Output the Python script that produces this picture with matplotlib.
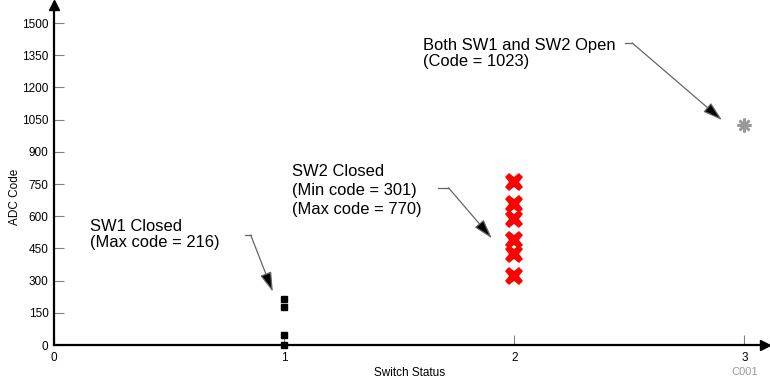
import matplotlib
matplotlib.use('Agg')
import matplotlib.pyplot as plt

plt.rcParams['font.family'] = ['Liberation Sans', 'DejaVu Sans']

# data
sw1_x = [1, 1, 1, 1]
sw1_codes = [216, 175, 48, 0]
sw2_x = [2, 2, 2, 2, 2, 2]
sw2_codes = [760, 655, 585, 490, 425, 320]
open_x = [3]
open_codes = [1023]

yticks = [0, 150, 300, 450, 600, 750, 900, 1050, 1200, 1350, 1500]
xticks = [0, 1, 2, 3]

# (text, text position, line spacing, elbow start, elbow end, arrow tip)
notes = [
    ('SW1 Closed\n(Max code = 216)', (0.155, 585), 1.05, (0.83, 512), (0.855, 512), (0.951, 248)),
    ('SW2 Closed\n(Min code = 301)\n(Max code = 770)', (1.035, 845), 1.35, (1.671, 733), (1.714, 733), (1.903, 497)),
    ('Both SW1 and SW2 Open\n(Code = 1023)', (1.605, 1432), 1.1, (2.483, 1407), (2.513, 1407), (2.903, 1048)),
]


def main():
    fig = plt.figure(figsize=(7.7, 3.81), dpi=100)
    ax = fig.add_axes([54 / 770., 36 / 381., 711 / 770., 340 / 381.])
    ax.set_xlim(0, 3.09)
    ax.set_ylim(0, 1584)

    for s in ['top', 'right']:
        ax.spines[s].set_visible(False)
    for s in ['left', 'bottom']:
        ax.spines[s].set_linewidth(1.6)
        ax.spines[s].set_color('black')

    # arrow heads on the axes
    ax.plot(1, 0, '>', color='k', ms=7, transform=ax.transAxes, clip_on=False)
    ax.plot(0, 1, '^', color='k', ms=7, transform=ax.transAxes, clip_on=False)

    ax.set_yticks(yticks)
    ax.set_xticks(xticks)
    ax.tick_params(axis='both', direction='in', length=7, width=0.8,
                   color='0.5', labelsize=8.5, labelcolor='black')
    ax.tick_params(axis='y', pad=4)
    ax.tick_params(axis='x', pad=5)

    ax.set_ylabel('ADC Code', fontsize=8.5)
    ax.yaxis.set_label_coords(-0.047, 0.435)
    ax.set_xlabel('Switch Status', fontsize=8.5, labelpad=2)

    ax.plot(sw1_x, sw1_codes, 's', color='k', ms=5, clip_on=False, zorder=5)
    ax.plot(sw2_x, sw2_codes, 'X', color='red', ms=13, mew=0, zorder=5)
    ax.plot(open_x, open_codes, marker=(8, 2, 0), ls='none', color='#999999',
            ms=10, mew=1.8, zorder=5)

    for text, pos, lsp, e0, e1, tip in notes:
        ax.text(pos[0], pos[1], text, fontsize=11.9, va='top', ha='left',
                linespacing=lsp)
        ax.plot([e0[0], e1[0]], [e0[1], e1[1]], color='0.4', lw=0.9)
        ax.annotate('', xy=tip, xytext=e1,
                    arrowprops=dict(arrowstyle='-|>,head_length=1.2,head_width=0.36',
                                    ec='0.4', fc='black', lw=0.9,
                                    shrinkA=0, shrinkB=0, mutation_scale=10))

    fig.text(745 / 770., 1 - 372 / 381., 'C001', fontsize=8, color='0.6',
             ha='center', va='center')

    fig.savefig('out.png', dpi=100)


if __name__ == '__main__':
    main()
